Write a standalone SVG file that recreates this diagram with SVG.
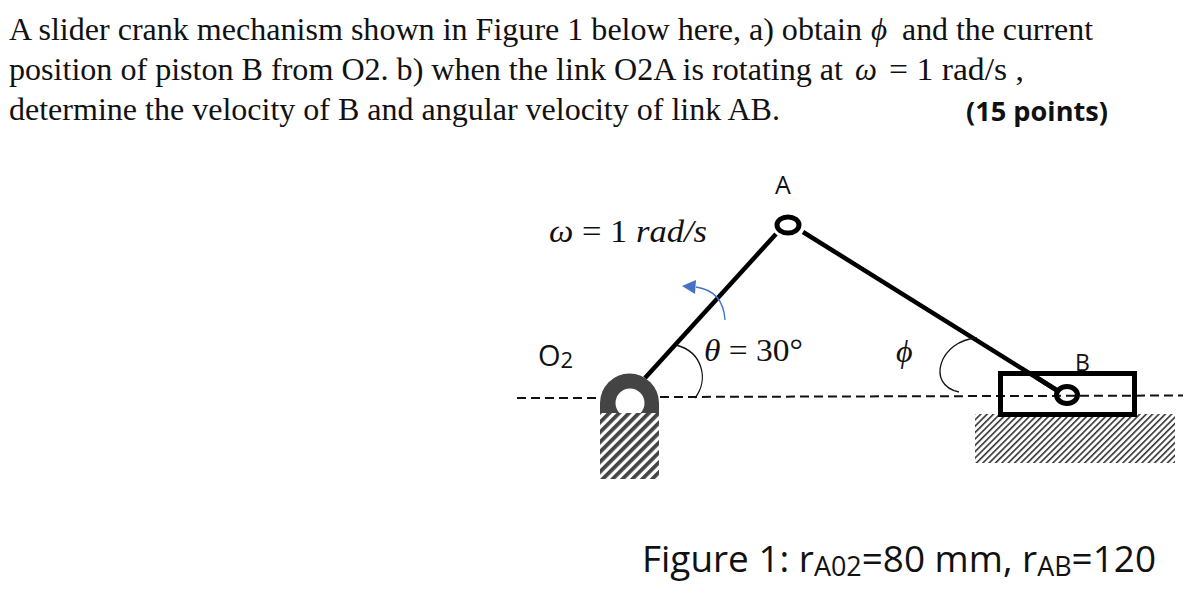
<svg xmlns="http://www.w3.org/2000/svg" width="1189" height="590" viewBox="0 0 1189 590">
<style>
.q{font-family:"Liberation Serif",serif;font-size:31px;fill:#111}
.s{font-family:"Open Sans","Liberation Sans",sans-serif;fill:#111}
.m{font-family:"Liberation Serif",serif;font-size:32px;fill:#111}
.i{font-style:italic}
.link{stroke:#000;stroke-width:4.500;fill:none}
.dash{stroke:#111;stroke-width:2;stroke-dasharray:9 5;fill:none}
.arc{stroke:#111;stroke-width:1.3;fill:none}
</style>
<defs>
<pattern id="h1" width="7" height="7" patternUnits="userSpaceOnUse" patternTransform="rotate(-45)"><rect width="7" height="7" fill="#fff"/><rect width="7" height="3.800" fill="#444"/></pattern>
<pattern id="h2" width="4.500" height="4.500" patternUnits="userSpaceOnUse" patternTransform="rotate(-45)"><rect width="4.500" height="4.500" fill="#fff"/><rect width="4.500" height="1.600" fill="#333"/></pattern>
<clipPath id="top"><rect x="590" y="360" width="80" height="53"/></clipPath>
</defs>
<g id="question">
<text class="q" x="9" y="40" textLength="853" lengthAdjust="spacingAndGlyphs">A slider crank mechanism shown in Figure 1 below here, a) obtain</text>
<text class="q i" x="871" y="40">ϕ</text>
<text class="q" x="902" y="40" textLength="191" lengthAdjust="spacingAndGlyphs">and the current</text>
<text class="q" x="9" y="80" textLength="834" lengthAdjust="spacingAndGlyphs">position of piston B from O2. b) when the link O2A is rotating at</text>
<text class="q i" x="855" y="80">ω</text>
<text class="q" x="889" y="80" textLength="135" lengthAdjust="spacingAndGlyphs">= 1 rad/s ,</text>
<text class="q" x="9" y="120" textLength="771" lengthAdjust="spacingAndGlyphs">determine the velocity of B and angular velocity of link AB.</text>
<text class="s" x="966" y="121" font-size="27" font-weight="700" textLength="142" lengthAdjust="spacingAndGlyphs">(15 points)</text>
</g>
<g id="connectors">
<path class="dash" d="M517 398H598"/>
<path class="dash" d="M660 397L1183 395.500"/>
<path class="link" d="M645 378L776 234"/>
<path class="link" d="M803 232L1058 391"/>
<path class="arc" d="M676 345C703 352 709 380 695 398"/>
<path class="arc" d="M977 338C940 340 925 385 959 392"/>
<path d="M725 320C724 302 716 290 696 287" fill="none" stroke="#4472c4" stroke-width="1.3"/>
<path d="M682 286L696 280L695 294Z" fill="#4472c4"/>
</g>
<g id="O2">
<rect x="600" y="413" width="59" height="66" fill="url(#h1)"/>
<circle cx="629.500" cy="403" r="29.500" fill="#444" clip-path="url(#top)"/>
<rect x="600" y="403" width="59" height="10" fill="#444"/>
<circle cx="630" cy="403" r="14.500" fill="#fff" clip-path="url(#top)"/>
<text class="s" x="538" y="366" font-size="29">O<tspan font-size="22" dy="2">2</tspan></text>
</g>
<g id="A">
<ellipse cx="788" cy="225" rx="11" ry="8" fill="none" stroke="#000" stroke-width="5"/>
<text class="s" x="775" y="194" font-size="25">A</text>
</g>
<g id="B">
<rect x="975" y="414" width="200" height="49" fill="url(#h2)"/>
<rect x="1000.500" y="373.500" width="134" height="41" fill="none" stroke="#000" stroke-width="5"/>
<path class="link" d="M1036 377L1058 391"/>
<ellipse cx="1067" cy="395" rx="10.500" ry="8.500" fill="none" stroke="#000" stroke-width="5"/>
<text class="s" x="1075" y="371" font-size="23">B</text>
</g>
<g id="labels">
<text class="m" x="549" y="242" textLength="158" lengthAdjust="spacingAndGlyphs"><tspan class="i">ω</tspan> = 1 <tspan class="i">rad/s</tspan></text>
<text class="m" x="704" y="361" textLength="99" lengthAdjust="spacingAndGlyphs"><tspan class="i">θ</tspan> = 30°</text>
<text class="m i" x="896" y="362">ϕ</text>
<text class="s" x="642" y="572" font-size="37" textLength="514" lengthAdjust="spacingAndGlyphs">Figure 1: r<tspan font-size="27" dy="4">A02</tspan><tspan dy="-4">=80 mm, r</tspan><tspan font-size="27" dy="4">AB</tspan><tspan dy="-4">=120</tspan></text>
</g>
</svg>
